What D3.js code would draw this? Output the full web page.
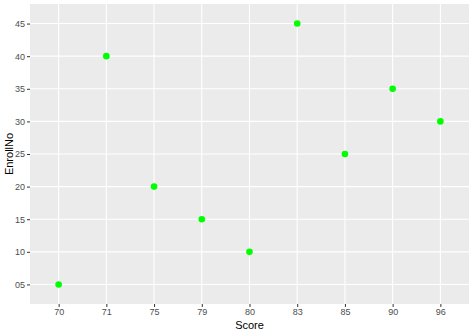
<!DOCTYPE html>
<html>
<head>
<meta charset="utf-8">
<script src="https://cdn.jsdelivr.net/npm/d3@7"></script>
<style>
  body { margin: 0; background: #fff; }
  text { font-family: "Liberation Sans", Arial, sans-serif; }
</style>
</head>
<body>
<div id="chart"></div>
<script>
const width = 474;
const height = 334;
const margin = { top: 4, right: 5, bottom: 30, left: 30 };

const scores = ['70', '71', '75', '79', '80', '83', '85', '90', '96'];
const enrollNos = ['05', '10', '15', '20', '25', '30', '35', '40', '45'];
const pointScore = ['70', '71', '75', '79', '80', '83', '85', '90', '96'];
const pointEnroll = ['05', '40', '20', '15', '10', '45', '25', '35', '30'];

const svg = d3.select('#chart')
  .append('svg')
  .attr('width', width)
  .attr('height', height);

const x = d3.scalePoint()
  .domain(scores)
  .range([margin.left, width - margin.right])
  .padding(0.6);

const y = d3.scalePoint()
  .domain(enrollNos)
  .range([height - margin.bottom, margin.top])
  .padding(0.6);

// panel
svg.append('rect')
  .attr('x', margin.left)
  .attr('y', margin.top)
  .attr('width', width - margin.left - margin.right)
  .attr('height', height - margin.top - margin.bottom)
  .attr('fill', '#ebebeb');

// grid
svg.append('g')
  .selectAll('line')
  .data(scores)
  .join('line')
    .attr('x1', d => x(d)).attr('x2', d => x(d))
    .attr('y1', margin.top).attr('y2', height - margin.bottom)
    .attr('stroke', '#fff').attr('stroke-width', 1.1);

svg.append('g')
  .selectAll('line')
  .data(enrollNos)
  .join('line')
    .attr('y1', d => y(d)).attr('y2', d => y(d))
    .attr('x1', margin.left).attr('x2', width - margin.right)
    .attr('stroke', '#fff').attr('stroke-width', 1.1);

function xAxis(g) {
  g.attr('transform', `translate(0, ${height - margin.bottom})`)
    .call(d3.axisBottom(x).tickSize(3).tickPadding(2))
    .call(g => g.select('.domain').remove());
  g.selectAll('.tick line').attr('stroke', '#333');
  g.selectAll('.tick text').attr('fill', '#4d4d4d').attr('font-size', 9);
}

function yAxis(g) {
  g.attr('transform', `translate(${margin.left}, 0)`)
    .call(d3.axisLeft(y).tickSize(3).tickPadding(2))
    .call(g => g.select('.domain').remove());
  g.selectAll('.tick line').attr('stroke', '#333');
  g.selectAll('.tick text').attr('fill', '#4d4d4d').attr('font-size', 9);
}

svg.append('g').call(xAxis);
svg.append('g').call(yAxis);

// points
svg.append('g')
  .selectAll('circle')
  .data(pointScore)
  .join('circle')
    .attr('cx', d => x(d))
    .attr('cy', (d, i) => y(pointEnroll[i]))
    .attr('r', 3.3)
    .attr('fill', '#00ff00');

// titles
svg.append('text')
  .attr('x', (margin.left + width - margin.right) / 2)
  .attr('y', height - 5)
  .attr('text-anchor', 'middle')
  .attr('font-size', 11)
  .text('Score');

svg.append('text')
  .attr('transform', `translate(13, ${(margin.top + height - margin.bottom) / 2}) rotate(-90)`)
  .attr('text-anchor', 'middle')
  .attr('font-size', 11)
  .text('EnrollNo');
</script>
</body>
</html>
